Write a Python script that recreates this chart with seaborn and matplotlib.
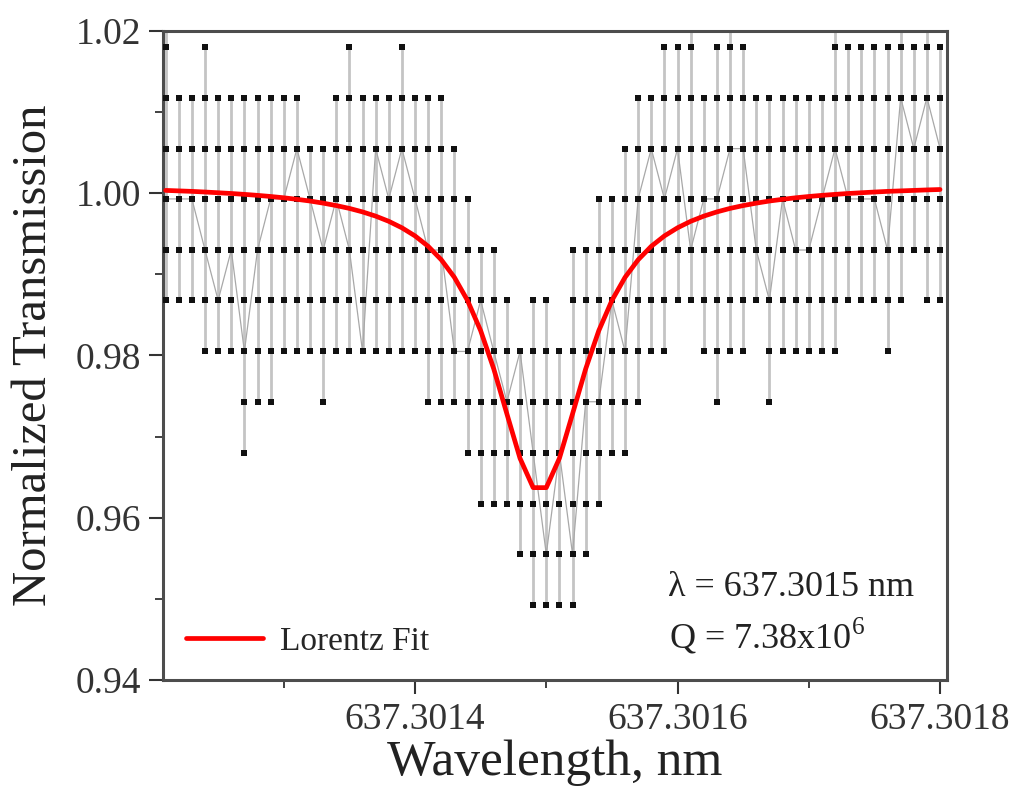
import matplotlib
matplotlib.use("Agg")
import matplotlib.pyplot as plt
import pandas as pd
import seaborn as sns

# scan points, nm
wavelength = [
    637.30121, 637.30122, 637.30123, 637.30124, 637.30125, 637.30126, 637.30127, 637.30128, 637.30129, 637.30130,
    637.30131, 637.30132, 637.30133, 637.30134, 637.30135, 637.30136, 637.30137, 637.30138, 637.30139, 637.30140,
    637.30141, 637.30142, 637.30143, 637.30144, 637.30145, 637.30146, 637.30147, 637.30148, 637.30149, 637.30150,
    637.30151, 637.30152, 637.30153, 637.30154, 637.30155, 637.30156, 637.30157, 637.30158, 637.30159, 637.30160,
    637.30161, 637.30162, 637.30163, 637.30164, 637.30165, 637.30166, 637.30167, 637.30168, 637.30169, 637.30170,
    637.30171, 637.30172, 637.30173, 637.30174, 637.30175, 637.30176, 637.30177, 637.30178, 637.30179, 637.30180,
]

# the transmission is quantized onto these levels
levels = [0.9492, 0.9555, 0.9617, 0.9680, 0.9743, 0.9805, 0.9868,
          0.9930, 0.9993, 1.0055, 1.0118, 1.0180, 1.0243]

# per point: lowest / highest level seen and the plotted level (index into levels)
low_idx = [6, 6, 6, 5, 5, 5, 3, 4, 4, 5, 5, 5, 4, 5, 5, 5, 5, 5, 5, 5,
           4, 4, 4, 3, 2, 2, 2, 1, 0, 0, 0, 0, 1, 2, 3, 3, 4, 5, 5, 6,
           6, 5, 4, 5, 5, 6, 4, 5, 5, 5, 5, 5, 6, 6, 6, 5, 6, 7, 6, 6]
high_idx = [12, 10, 10, 11, 10, 10, 10, 10, 10, 10, 10, 9, 9, 10, 11, 10, 10, 10, 11, 10,
            10, 10, 9, 8, 7, 7, 6, 5, 6, 6, 5, 7, 7, 8, 8, 9, 10, 10, 11, 11,
            12, 10, 11, 12, 11, 10, 10, 10, 10, 10, 10, 12, 11, 11, 11, 11, 12, 11, 12, 11]
trace_idx = [8, 8, 8, 7, 6, 7, 5, 7, 8, 8, 9, 8, 7, 8, 7, 5, 9, 8, 9, 8,
             7, 7, 5, 5, 6, 5, 4, 5, 3, 1, 3, 1, 4, 4, 6, 5, 8, 9, 8, 9,
             7, 8, 8, 9, 9, 7, 6, 8, 7, 7, 8, 9, 8, 8, 8, 7, 10, 9, 10, 9]

# Lorentz fit at each scan point
fit = [1.00035, 1.00029, 1.00023, 1.00015, 1.00006, 0.99997, 0.99986, 0.99974, 0.99960, 0.99944,
       0.99925, 0.99904, 0.99878, 0.99848, 0.99813, 0.99770, 0.99718, 0.99654, 0.99574, 0.99474,
       0.99346, 0.99180, 0.98963, 0.98678, 0.98306, 0.97834, 0.97280, 0.96732, 0.96371, 0.96371,
       0.96732, 0.97280, 0.97834, 0.98306, 0.98678, 0.98963, 0.99180, 0.99346, 0.99474, 0.99574,
       0.99654, 0.99718, 0.99770, 0.99813, 0.99848, 0.99878, 0.99904, 0.99925, 0.99944, 0.99960,
       0.99974, 0.99986, 0.99997, 1.00006, 1.00015, 1.00023, 1.00029, 1.00035, 1.00041, 1.00046]

x_ticks = [637.3014, 637.3016, 637.3018]
x_ticklabels = ["637.3014", "637.3016", "637.3018"]
y_ticks = [0.94, 0.96, 0.98, 1.00, 1.02]
y_ticklabels = ["0.94", "0.96", "0.98", "1.00", "1.02"]

df = pd.DataFrame({
    "wl": wavelength,
    "lo": [levels[i] for i in low_idx],
    "hi": [levels[i] for i in high_idx],
    "T": [levels[i] for i in trace_idx],
    "fit": fit,
})
dots = pd.DataFrame(
    [(w, levels[k]) for w, a, b in zip(wavelength, low_idx, high_idx) for k in range(a, b + 1)],
    columns=["wl", "T"],
)

sns.set_style("ticks")
plt.rcParams["font.family"] = ["Liberation Serif", "DejaVu Serif"]
plt.rcParams["mathtext.fontset"] = "custom"
plt.rcParams["mathtext.rm"] = "Liberation Serif"

fig = plt.figure(figsize=(10.24, 8.05), dpi=100)
ax = fig.add_axes([0.1592, 0.1553, 0.7656, 0.8062])

ax.vlines(df["wl"], df["lo"], df["hi"], color="#c4c4c4", lw=2.0, zorder=1)
sns.lineplot(data=df, x="wl", y="T", sort=False, estimator=None,
             color="#a8a8a8", lw=0.9, ax=ax, zorder=2)
sns.scatterplot(data=dots, x="wl", y="T", marker="s", s=14, color="#111111",
                linewidth=0, ax=ax, zorder=3)
sns.lineplot(data=df, x="wl", y="fit", sort=False, estimator=None,
             color="#ff0000", lw=3.4, label="Lorentz Fit", ax=ax, zorder=4)

ax.set_xlim(637.301208, 637.3018053)
ax.set_ylim(0.94, 1.02)
ax.set_xticks(x_ticks)
ax.set_xticklabels(x_ticklabels)
ax.set_xticks([637.3013, 637.3015, 637.3017], minor=True)
ax.set_yticks(y_ticks)
ax.set_yticklabels(y_ticklabels)
ax.set_yticks([0.95, 0.97, 0.99, 1.01], minor=True)
ax.tick_params(which="major", direction="out", length=10, width=1.5,
               labelsize=27, colors="#333333", pad=6)
ax.tick_params(which="minor", direction="out", length=6, width=1.3, colors="#333333")

for side in ["left", "right", "top", "bottom"]:
    ax.spines[side].set_linewidth(2.2)
    ax.spines[side].set_color("#4d4d4d")

ax.set_xlabel("Wavelength, nm", fontsize=37, color="#222222", labelpad=2)
ax.set_ylabel("Normalized Transmission", fontsize=35, color="#222222", labelpad=14)

ax.text(0.644, 0.142, "λ = 637.3015 nm", transform=ax.transAxes,
        fontsize=26, va="center", ha="left", color="#222222")
ax.text(0.646, 0.068, "Q = 7.38x10$^{6}$", transform=ax.transAxes,
        fontsize=26, va="center", ha="left", color="#222222")

ax.legend(loc="lower left", bbox_to_anchor=(0.0, 0.0), frameon=False,
          fontsize=24, handlelength=2.3, handletextpad=0.5, borderaxespad=0.3)

fig.savefig("out.png", dpi=100)
